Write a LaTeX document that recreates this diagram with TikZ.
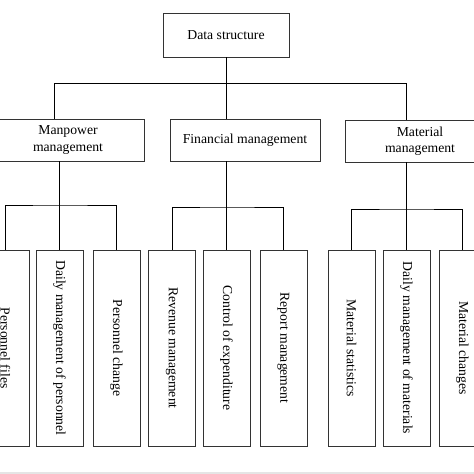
\documentclass[tikz,border=0pt]{standalone}
\usepackage{fontspec}
\setmainfont{Liberation Serif}

\begin{document}
\begin{tikzpicture}[x=1pt,y=-1pt,line width=.8pt,
        box/.style={draw=black!80,minimum height=42,inner sep=0,align=center,font=\fontsize{13.7}{16.5}\selectfont},
        leaf/.style={draw=black!80,rotate=-90,minimum width=196,minimum height=47,inner sep=0,font=\fontsize{13.7}{16.5}\selectfont}]
        \useasboundingbox (0,0) rectangle (474,474);
        \clip (0,0) rectangle (474,474);
        \fill[black!10] (0,472) rectangle (474,474);
        \draw (226,35) node[box,minimum width=126,minimum height=44] (ds) {Data structure};
        \draw (68,140) node[box,minimum width=152] (man) {Manpower\\management};
        \draw (245,140) node[box,minimum width=150] (fin) {Financial management};
        \draw (420,141) node[box,minimum width=150] (mat) {Material\\management};
        \draw (5.5,348) node[leaf] (pf) {Personnel files};
        \draw (59.5,348) node[leaf] (dp) {Daily management of personnel};
        \draw (116.5,348) node[leaf] (pc) {Personnel change};
        \draw (172,348) node[leaf] (rv) {Revenue management};
        \draw (226.5,348) node[leaf] (ce) {Control of expenditure};
        \draw (283.5,348) node[leaf] (rp) {Report management};
        \draw (351.5,348) node[leaf] (ms) {Material statistics};
        \draw (406.5,348) node[leaf] (dm) {Daily management of materials};
        \draw (462.5,348) node[leaf] (mc) {Material changes};
        % first level
        \coordinate (t1) at (54,83);
        \coordinate (t3) at (406,83);
        \draw (ds.south) -- (ds.south |- t1);
        \draw (man.north -| t1) -- (t1) -- (t3) -- (mat.north -| t3);
        \draw (ds.south |- t1) -- (fin.north -| ds.south);
        % second level
        \coordinate (m1) at (0,205);
        \coordinate (f1) at (0,207);
        \coordinate (s1) at (0,209);
        \draw (pf.west) |- (dp.west |- m1) -| (pc.west);
        \draw (dp.west |- man.south) -- (dp.west);
        \draw (rv.west) |- (ce.west |- f1) -| (rp.west);
        \draw (ce.west |- fin.south) -- (ce.west);
        \draw (ms.west) |- (dm.west |- s1) -| (mc.west);
        \draw (dm.west |- mat.south) -- (dm.west);
\end{tikzpicture}
\end{document}
